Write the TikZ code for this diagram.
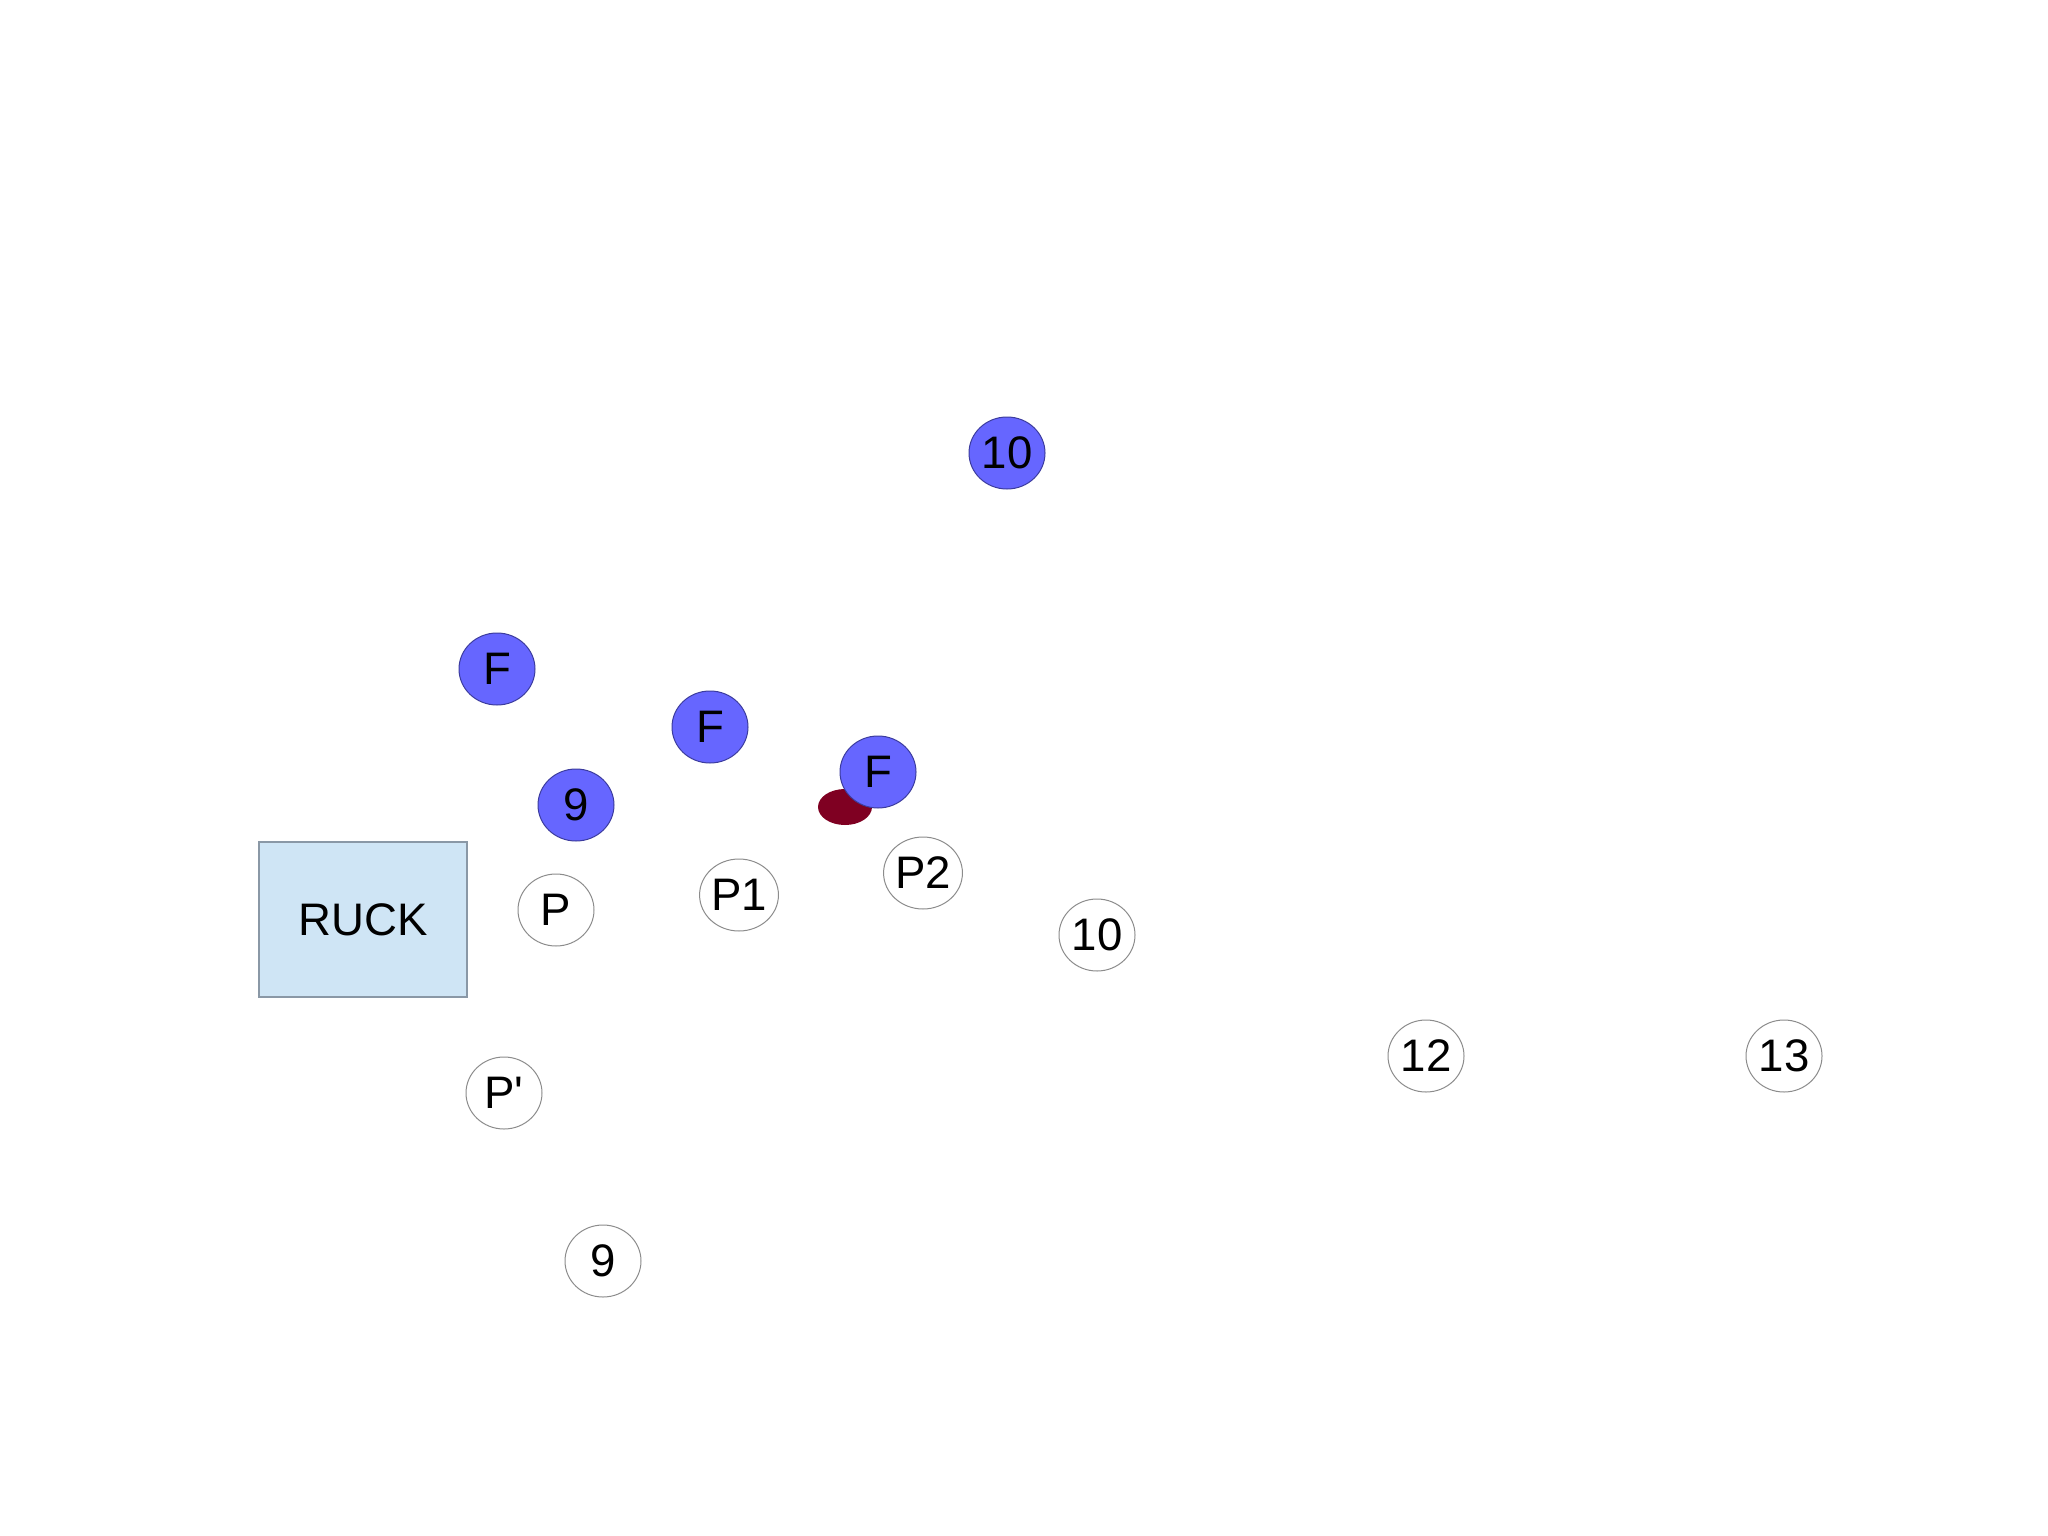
\documentclass[tikz,border=0pt]{standalone}
\usepackage{fontspec}
\setmainfont{Liberation Sans}
\usetikzlibrary{shapes.geometric}
\definecolor{pblue}{HTML}{6666FF}
\definecolor{pblueline}{HTML}{3C3C9E}
\definecolor{ruckfill}{HTML}{CFE5F5}
\definecolor{ruckline}{HTML}{8A98A6}
\definecolor{ballred}{HTML}{7F0022}
\definecolor{greyline}{HTML}{8C8C8C}
\newcommand{\straightquote}{\XeTeXglyph\the\XeTeXcharglyph"0027\relax}
\begin{document}
\begin{tikzpicture}[x=0.5pt,y=-0.5pt,
  player/.style={ellipse,minimum width=38pt,minimum height=36pt,inner sep=0pt,line width=0.5pt,font=\fontsize{22.8}{26}\selectfont},
  attack/.style={player,draw=greyline,fill=white},
  defend/.style={player,draw=pblueline,fill=pblue},
  ruckbox/.style={rectangle,draw=ruckline,fill=ruckfill,line width=0.8pt,minimum width=104pt,minimum height=77.5pt,inner sep=0pt,font=\fontsize{22.8}{26}\selectfont}]
\useasboundingbox[fill=white] (0,0) rectangle (2048,1535);
% ball
\node[ellipse,fill=ballred,minimum width=27pt,minimum height=18pt,inner sep=0pt] (ball) at (845,807) {};
% defenders
\node[defend] (d10) at (1007,453) {10};
\node[defend] (f1) at (497,669) {F};
\node[defend] (f2) at (710,727) {F};
\node[defend] (f3) at (878,772) {F};
\node[defend] (d9) at (576,805) {9};
% ruck
\node[ruckbox] (ruck) at (363,919.5) {RUCK};
% attackers
\node[attack] (p) at (556,910) {P};
\node[attack] (p1) at (739,895) {P1};
\node[attack] (p2) at (923,873) {P2};
\node[attack] (a10) at (1097,935) {10};
\node[attack] (a12) at (1426,1056) {12};
\node[attack] (a13) at (1784,1056) {13};
\node[attack] (pp) at (504,1093) {P\straightquote};
\node[attack] (a9) at (603,1261) {9};
\end{tikzpicture}
\end{document}
